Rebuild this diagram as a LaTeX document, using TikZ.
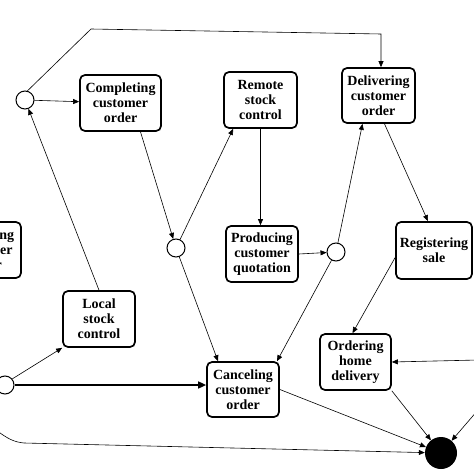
\documentclass[tikz,border=0pt]{standalone}
\usepackage{fontspec}
\setmainfont{Liberation Serif}
\usetikzlibrary{arrows.meta,calc}
\begin{document}
\begin{tikzpicture}[x=1pt,y=-1pt,
 box/.style={draw,line width=1.7pt,rounded corners=5pt,inner sep=0pt,align=center,
   font=\fontsize{14}{15}\selectfont\bfseries},
 gate/.style={draw,circle,line width=1pt,minimum size=18pt,inner sep=0pt},
 endev/.style={fill,circle,minimum size=32pt,inner sep=0pt},
 flow/.style={line width=0.6pt,-{Triangle[length=6pt,width=5pt]}},
 bigflow/.style={line width=1.6pt,-{Triangle[length=8pt,width=7pt]}}]
\useasboundingbox (0,0) rectangle (474,474);
\clip (0,0) rectangle (474,474);
\fill[white] (0,0) rectangle (474,474);

% boxes
\node[box,minimum width=81pt,minimum height=56pt] (comp) at (120.5,103) {Completing\\customer\\order};
\node[box,minimum width=73pt,minimum height=56pt] (remote) at (260.5,100) {Remote\\stock\\control};
\node[box,minimum width=73pt,minimum height=55pt] (deliv) at (378.5,95.5) {Delivering\\customer\\order};
\node[box,minimum width=72pt,minimum height=56pt] (prod) at (262,254) {Producing\\customer\\quotation};
\node[box,minimum width=76pt,minimum height=57pt] (reg) at (434,250.5) {Registering\\sale};
\node[box,minimum width=72pt,minimum height=56pt] (recv) at (-15,250) {Receiving\\customer\\order};
\node[box,minimum width=72pt,minimum height=56pt] (local) at (99,319) {Local\\stock\\control};
\node[box,minimum width=72pt,minimum height=55pt] (cancel) at (243,389.5) {Canceling\\customer\\order};
\node[box,minimum width=71pt,minimum height=56pt] (ord) at (355.5,362) {Ordering\\home\\delivery};

% gateways
\node[gate] (gA) at (25,100) {};
\node[gate] (gB) at (176,248) {};
\node[gate] (gC) at (336,252) {};
\node[gate] (gD) at (5,385) {};
\node[endev] (end) at (441,453) {};

% free ends
\coordinate (t1) at (91,29);
\coordinate (t2) at (381,34);
\coordinate (r1) at (478,360);
\coordinate (r2) at (478,410);
\coordinate (b0) at (-4,430);
\coordinate (b1) at (24,443);

% connectors
\draw[flow] (gA.75) -- (t1) -- (t2) -- ([xshift=2.5pt]deliv.north);
\draw[flow] (gA) -- (comp);
\draw[flow] (local.north) -- (gA);
\draw[flow] ([xshift=20pt]comp.south) -- (gB);
\draw[flow] (gB) -- ([xshift=10pt]remote.south west);
\draw[flow] (gB) -- ([xshift=-25pt]cancel.north);
\draw[flow] (remote.south) -- (remote.south |- prod.north);
\draw[flow] (prod.east) -- (gC);
\draw[flow] (gC) -- ([xshift=-16pt]deliv.south);
\draw[flow] (gC) -- ([xshift=34pt]cancel.north);
\draw[flow] ([xshift=6pt]deliv.south) -- ([xshift=-6pt]reg.north);
\draw[flow] ([yshift=-7pt]reg.west) -- ([xshift=-3pt]ord.north);
\draw[flow] (r1) -- (ord.east);
\draw[flow] (r2) -- (end);
\draw[flow] (ord.south east) -- (end);
\draw[flow] (cancel.east) -- (end);
\draw[flow] (b0) .. controls (8,439) and (14,442) .. (b1) -- (end);
\draw[flow] (gD.40) -- (local.south west);
\draw[bigflow] (gD.east) -- (cancel.west |- gD.east);
\end{tikzpicture}
\end{document}
